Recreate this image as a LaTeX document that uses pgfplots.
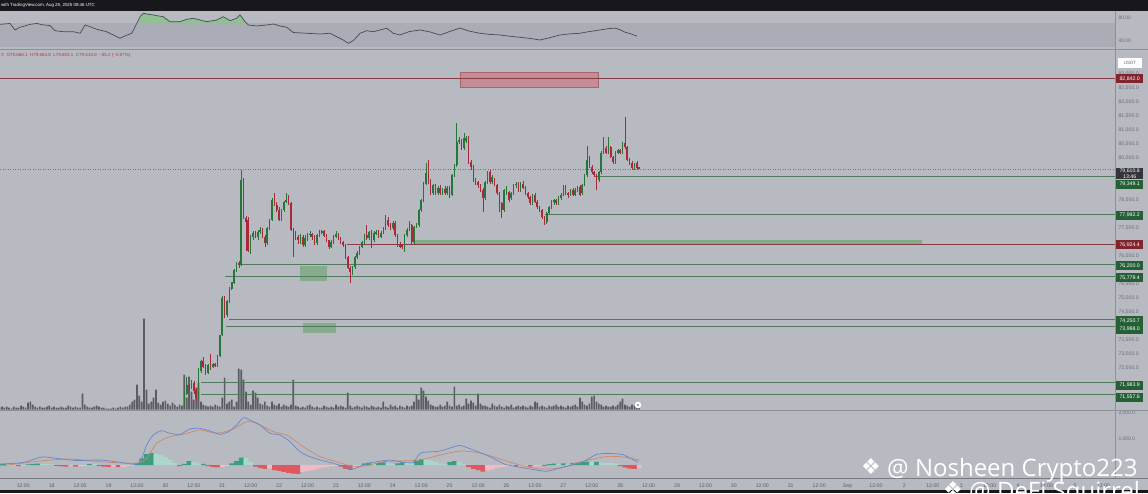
\documentclass[border=0pt]{standalone}
\usepackage{pgfplots}
\pgfplotsset{compat=1.18}
\usepackage{pgfplotstable}
\usepackage{fontspec}
\setmainfont{Liberation Sans}
\newfontfamily\wmfont{Open Sans}
\newfontfamily\symfont{DejaVu Sans}
\definecolor{bg}{RGB}{184,186,194}
\definecolor{topbar}{RGB}{24,24,28}
\definecolor{rsiband}{RGB}{171,173,182}
\definecolor{rsiline}{RGB}{72,72,82}
\definecolor{rsifill}{RGB}{140,192,140}
\definecolor{cgreen}{RGB}{38,118,58}
\definecolor{cred}{RGB}{168,42,58}
\definecolor{volgray}{RGB}{92,92,100}
\definecolor{lvlgreen}{RGB}{82,122,92}
\definecolor{lvlred}{RGB}{135,60,70}
\definecolor{boxgreen}{RGB}{36,96,52}
\definecolor{boxred}{RGB}{128,36,46}
\definecolor{boxdark}{RGB}{52,52,58}
\definecolor{zonegreen}{RGB}{122,168,128}
\definecolor{zonered}{RGB}{200,132,142}
\definecolor{macdblue}{RGB}{102,136,205}
\definecolor{macdorange}{RGB}{205,135,108}
\definecolor{hg}{RGB}{55,160,130}
\definecolor{hlg}{RGB}{170,215,200}
\definecolor{hr}{RGB}{226,86,96}
\definecolor{hp}{RGB}{242,186,196}
\definecolor{tickgray}{RGB}{108,108,118}
\definecolor{timegray}{RGB}{92,92,102}
\definecolor{sepgray}{RGB}{142,144,152}
\definecolor{legred}{RGB}{176,58,68}

\pgfplotsset{scaled ticks=false}

\pgfplotstableread{
o h l c
71350 71700 71150 71600
71600 72200 71550 71880
71880 71950 71700 71800
71800 72100 71750 71980
71980 72050 71600 71700
71700 71800 71300 71450
71450 72500 71400 72400
72400 72800 72350 72750
72750 72900 72500 72550
72550 72650 72250 72330
72330 72650 72280 72600
72600 73000 72450 72550
72550 72700 72500 72650
72650 72700 72550 72600
72600 72980 72550 72940
72940 73700 72900 73690
73690 75100 73650 75000
75000 75100 74300 74400
74400 74950 74350 74900
74900 75400 74850 75350
75350 75600 75300 75570
75570 76050 75500 76000
76000 76300 75950 76250
76250 76350 76100 76200
76200 79580 76150 79225
79225 79300 77850 77870
77870 77950 76700 77725
77800 77900 76650 76700
76700 77250 76600 77190
77190 77400 77100 77330
77330 77400 77150 77190
77190 77450 77100 77370
77370 77550 77300 77440
77440 77500 77150 77190
77190 77250 76850 76970
76970 77550 76900 77510
77510 77850 77450 77800
77800 78600 77750 78510
78510 78750 78300 78330
78330 78450 78100 78150
78150 78250 77750 77800
77800 78200 77750 78150
78150 78480 78100 78440
78440 78750 78400 78510
78510 78700 78350 78400
78400 78450 77400 77440
77440 77500 76480 77330
77330 77400 77100 77190
77190 77250 76950 77080
77010 77300 76950 77190
77190 77250 76850 76900
76900 77250 76850 77150
77150 77350 77050 77260
77260 77400 77200 77300
77300 77350 77100 77190
77190 77250 76900 76970
76970 77300 76900 77260
77260 77450 77200 77340
77340 77450 77300 77380
77380 77450 77200 77230
77230 77300 77000 77080
77080 77100 76750 76830
76830 77100 76780 77010
77010 77250 76950 77190
77190 77400 77150 77300
77300 77350 77100 77150
77150 77200 76950 77010
77010 77050 76850 76900
76900 76950 76400 76470
76470 76500 76050 76080
76080 76150 75550 75940
75940 76150 75850 76120
76120 76500 76050 76470
76470 76700 76400 76620
76620 76880 76550 76830
76830 77050 76800 77010
77010 77300 76950 77260
77260 77620 77100 77150
77150 77400 77100 77370
77370 77450 76800 77080
77080 77400 77000 77330
77330 77450 77250 77370
77370 77450 77150 77190
77190 77400 77150 77330
77330 77550 77300 77480
77480 77980 77450 77800
77800 77900 77550 77620
77620 77700 77450 77510
77510 77750 77450 77690
77690 77750 77200 77260
77260 77300 76850 76900
76900 77000 76800 76830
76900 76950 76750 76830
76830 77300 76650 77260
77260 77500 77200 77440
77440 77750 77400 77620
77620 77650 76950 77010
77010 77600 76950 77550
77550 77700 77500 77620
77620 78200 77550 78150
78150 78550 78100 78510
78510 79150 78450 79110
79110 79830 79050 79450
79450 79940 79100 79150
79150 79250 78700 78760
78760 79100 78700 79050
79050 79100 78700 78760
78760 79000 78700 78940
78940 79050 78700 78760
78760 78950 78700 78900
78900 79000 78700 78760
78760 79000 78700 78940
78940 79000 78600 78690
78690 79450 78650 79400
79400 79800 79350 79760
79760 81260 79700 80580
80580 80750 80500 80650
80650 80700 80300 80370
80370 80900 80300 80720
80620 80800 80550 80720
80720 80800 79800 79870
79870 79950 79600 79690
79690 79750 79150 79230
79230 79300 79050 79150
79150 79200 78950 79050
79050 79100 78800 78870
78870 78950 78080 78580
78580 79200 78500 79150
79150 79550 79100 79510
79510 79600 79100 79150
79150 79400 79100 79330
79230 79300 79000 79050
79050 79100 78700 78760
78760 78800 78100 78150
78400 78450 77870 78150
78150 78900 78100 78870
78760 79000 78700 78870
78800 78850 78450 78510
78580 78800 78500 78760
78760 79100 78700 79050
79050 79150 78950 79080
79080 79150 78800 78870
78870 79150 78800 79080
79080 79200 78900 78940
78940 79000 78700 78760
78760 78800 78550 78620
78620 78650 78350 78400
78400 78720 78350 78690
78690 78750 78400 78440
78440 78500 78200 78260
78260 78300 78100 78150
78150 78200 77850 77900
77900 77950 77620 77720
77720 78100 77650 78050
78050 78300 78000 78260
78260 78500 78200 78440
78440 78550 78350 78510
78510 78550 78350 78400
78400 78650 78350 78580
78580 78750 78500 78690
78690 79050 78650 78980
78980 79050 78700 78760
78760 78800 78600 78690
78690 78900 78650 78870
78870 78950 78650 78690
78690 78950 78650 78870
78870 79000 78800 78980
78980 79050 78650 78690
78760 79100 78700 79050
79050 79450 79000 79400
79400 80450 79350 79940
80000 80100 79650 79690
79690 79750 79450 79510
79510 79550 79350 79400
79400 79450 78870 79230
79230 79550 79150 79510
79510 80250 79450 80190
80190 80760 80150 80370
80370 80450 80150 80190
80190 80760 80150 80400
80400 80450 80000 80050
80050 80100 79800 79870
79870 80250 79800 80190
80190 80350 80150 80300
80300 80350 80150 80190
80190 80600 80150 80550
80550 81470 80350 80400
80400 80450 79900 79940
79940 80000 79750 79830
79830 79900 79600 79650
79650 79850 79600 79760
79830 79900 79600 79650
79666 79685 79603 79611
}\candles

\pgfplotstableread{
h v c
2 40 0
4 40 0
6 30 1
8 -20 3
10 -40 2
12 -30 3
14 20 0
16 40 0
18 50 0
20 40 1
22 30 1
24 20 1
26 -30 2
28 -50 2
30 -60 2
32 -40 3
34 -60 2
36 -40 3
38 -30 3
40 30 0
42 30 1
44 -30 2
46 -60 2
48 -70 2
50 -60 3
52 -80 2
54 -70 3
56 -40 3
58 -20 3
60 80 0
62 250 0
64 420 0
66 460 0
68 440 1
70 380 1
72 300 1
74 200 1
76 80 1
78 -40 2
80 40 0
82 150 0
84 120 1
86 60 1
88 40 0
90 -40 2
92 -80 2
94 -90 2
96 -70 3
98 -30 3
100 60 0
102 150 0
104 280 0
106 260 1
108 120 1
110 -60 2
112 -120 2
114 -150 2
116 -130 3
118 -200 2
120 -230 2
122 -260 2
124 -300 2
126 -330 2
128 -340 2
130 -260 3
132 -230 3
134 -200 3
136 -150 3
138 -100 3
140 -80 3
142 -50 3
144 -30 3
146 -60 2
148 -150 2
150 -190 2
152 -120 3
154 -50 3
156 60 0
158 90 0
160 60 1
162 80 0
164 100 0
166 60 1
168 40 1
170 60 0
172 100 0
174 80 1
176 60 1
178 150 0
180 230 0
182 220 1
184 180 1
186 120 1
188 60 1
190 40 1
192 110 0
194 150 0
196 120 1
198 40 1
200 -80 2
202 -150 2
204 -200 2
206 -250 2
208 -220 3
210 -180 3
212 -120 3
214 -80 3
216 -60 3
218 -40 3
220 -60 2
222 -50 3
224 -40 3
226 -60 2
228 -60 3
230 -30 3
232 -40 2
234 30 0
236 50 0
238 40 1
240 60 0
242 40 1
244 70 0
246 90 0
248 120 0
250 130 0
252 110 1
254 120 0
256 90 1
258 80 1
260 70 1
262 50 1
264 -40 2
266 -100 2
268 -140 2
270 -150 2
272 -120 3
}\hist

\newcommand{\pricebox}[3]{\node[fill=#1, text=white, font=\fontsize{5.2}{6}\selectfont, inner xsep=1.5pt, inner ysep=0pt, minimum height=9pt, minimum width=27pt, anchor=west] at (1116pt,#2pt) {#3};}

\pgfplotsset{candle/.style={only marks, mark=*, mark size=0pt, mark options={draw=none, fill=none},
  error bars/.cd, y dir=both, y explicit, error mark=none}}

\begin{document}
\begin{tikzpicture}[x=1pt,y=1pt]
\useasboundingbox (0pt,0pt) rectangle (1148pt,493pt);
\fill[bg] (0pt,0pt) rectangle (1148pt,493pt);

% ---------------- RSI pane ----------------
\begin{axis}[at={(0pt,443.5pt)}, anchor=south west, scale only axis,
  width=1115pt, height=38.5pt,
  xmin=2.174, xmax=472.9, ymin=24.8, ymax=91.7,
  axis line style={draw=none}, major tick length=0pt, xtick=\empty,
  ytick={40,80}, yticklabels={40.00,80.00}, yticklabel pos=right,
  yticklabel style={font=\fontsize{5}{6}\selectfont, text=tickgray},
  clip mode=individual]
\fill[rsiband] (axis cs:2.174,30) rectangle (axis cs:472.9,70);
\addplot[fill=rsifill, draw=none, fill opacity=0.85] coordinates {
(60.3,70) (61.3,81.8) (62.7,87.7) (64.1,86.5) (66.9,84.8) (68.3,83.6) (71.1,81.8)
(73.9,73.1) (78.2,73.1) (81,77.3) (83.8,79) (86.6,76.1) (89.4,73.1) (93.7,76.1)
(96.4,81.8) (99.3,74.9) (102.1,79) (103.5,84.8) (105.6,73.1) (106.5,70)} -- cycle;
\addplot[rsiline, line width=0.7pt] coordinates {
(2.2,68.5) (5,69.5) (6.4,70) (8.5,58.7) (10.6,63.4) (12.7,65.7) (14.8,68.5) (17.7,70)
(20.5,67.5) (23.3,66.4) (25.4,57.5) (28.9,55.7) (33.1,55.7) (36,53) (38.1,67.4)
(40.2,64.4) (43,59.9) (47.2,55.7) (50,50) (52.8,44.3) (54.9,48.3) (57.8,53)
(59.2,64.4) (61.3,81.8) (62.7,87.7) (64.1,86.5) (66.9,84.8) (68.3,83.6) (71.1,81.8)
(73.9,73.1) (78.2,73.1) (81,77.3) (83.8,79) (86.6,76.1) (89.4,73.1) (93.7,76.1)
(96.4,81.8) (99.3,74.9) (102.1,79) (103.5,84.8) (105.6,73.1) (107,67.4) (110.5,65.7)
(114.8,67.4) (117.6,69.1) (120.4,65.7) (123.2,63.4) (126,54.3) (131.6,53) (137.3,51.7)
(141.5,53) (144.3,47) (147.1,41.3) (149.2,35.6) (151.3,40.1) (154.2,53) (157,57.5)
(159.8,55.7) (162.6,58.7) (165.4,61.7) (168.2,53) (171,50) (175,56) (179.5,58.7)
(184,55) (188,50) (192,56) (196.4,62) (200,57) (204.8,53) (209,51) (213.3,50)
(217,48) (221.7,46) (226,44) (230.1,41.3) (234,45) (238.6,50) (243,52) (247,53)
(251,56) (255.5,58.7) (259,61) (261.8,62) (264,59) (266,55) (268.5,52) (271.1,48)};
\end{axis}

% ---------------- Volume ----------------
\begin{axis}[at={(0pt,83.5pt)}, anchor=south west, scale only axis,
  width=1115pt, height=359.5pt,
  xmin=2.174, xmax=472.9, ymin=0, ymax=359.5, hide axis]
\addplot[ybar, bar width=0.72, bar shift=0pt, fill=volgray, draw=none]
 table[row sep=\\, x expr=\coordindex+2, y index=0] {v\\
2\\3\\2\\3\\2\\1\\3\\2\\2\\4\\3\\2\\
7\\8\\5\\3\\
2\\3\\2\\2\\3\\4\\2\\3\\2\\2\\3\\2\\2\\4\\3\\2\\3\\2\\2\\
16\\5\\
3\\2\\2\\3\\4\\3\\2\\2\\1\\1\\1\\2\\1\\2\\3\\2\\3\\
3\\5\\8\\10\\25\\14\\8\\91\\20\\6\\8\\12\\20\\7\\5\\
8\\9\\6\\4\\7\\5\\3\\5\\4\\
35\\12\\33\\18\\10\\22\\27\\8\\5\\4\\3\\
4\\3\\5\\4\\3\\
12\\32\\6\\8\\10\\3\\8\\41\\40\\30\\
18\\8\\5\\19\\17\\12\\6\\5\\8\\
4\\3\\8\\5\\4\\6\\3\\5\\4\\3\\
5\\30\\4\\3\\
2\\3\\2\\4\\5\\3\\2\\3\\2\\2\\4\\3\\2\\3\\2\\5\\3\\4\\3\\2\\17\\4\\
2\\3\\4\\3\\2\\4\\3\\2\\4\\3\\
2\\3\\2\\8\\3\\2\\5\\3\\4\\2\\4\\3\\2\\4\\3\\
4\\8\\15\\10\\22\\19\\13\\9\\5\\4\\3\\
3\\5\\3\\4\\8\\4\\3\\
23\\4\\5\\3\\4\\11\\6\\
9\\7\\4\\16\\6\\4\\
4\\3\\2\\6\\4\\3\\5\\3\\2\\4\\3\\5\\2\\3\\4\\3\\4\\3\\2\\4\\3\\8\\
7\\3\\4\\3\\2\\4\\3\\4\\5\\3\\4\\3\\2\\4\\3\\4\\5\\3\\
12\\8\\5\\4\\6\\13\\14\\8\\6\\5\\
3\\4\\3\\3\\4\\3\\5\\8\\11\\
5\\4\\3\\5\\4\\3\\2\\
};
\end{axis}

% ---------------- Main price pane ----------------
\begin{axis}[at={(0pt,83pt)}, anchor=south west, scale only axis,
  width=1115pt, height=360pt,
  xmin=2.174, xmax=472.9, ymin=71011, ymax=83868,
  axis line style={draw=none}, major tick length=0pt, xtick=\empty,
  scaled y ticks=false,
  ytick={72500,73000,73500,74500,75000,75500,76500,77500,78500,80000,80500,81000,81500,82000,82500,83000},
  yticklabels={{72,500.0},{73,000.0},{73,500.0},{74,500.0},{75,000.0},{75,500.0},{76,500.0},{77,500.0},{78,500.0},{80,000.0},{80,500.0},{81,000.0},{81,500.0},{82,000.0},{82,500.0},{83,000.0}},
  yticklabel pos=right,
  yticklabel style={font=\fontsize{5.2}{6}\selectfont, text=tickgray},
  clip mode=individual]
% zones
\fill[zonered, fill opacity=0.85, draw=boxred!70, line width=0.4pt] (axis cs:196.4,83082) rectangle (axis cs:254.6,82546);
\fill[zonegreen, fill opacity=0.85] (axis cs:176.5,77082) rectangle (axis cs:391.4,76904);
\fill[zonegreen, fill opacity=0.8] (axis cs:128.8,76154) rectangle (axis cs:140.2,75619);
\fill[zonegreen, fill opacity=0.8] (axis cs:130.1,74118) rectangle (axis cs:144,73761);
% level lines
\draw[lvlred, line width=0.7pt] (axis cs:2.174,82842) -- (axis cs:472.9,82842);
\draw[sepgray!80!black, dotted, line width=0.5pt] (axis cs:2.174,79610.8) -- (axis cs:472.9,79610.8);
\draw[lvlgreen, line width=0.7pt] (axis cs:253.4,79349.1) -- (axis cs:472.9,79349.1);
\draw[lvlgreen, line width=0.7pt] (axis cs:232.3,77992.2) -- (axis cs:472.9,77992.2);
\draw[lvlred, line width=0.7pt] (axis cs:148.7,76924.4) -- (axis cs:472.9,76924.4);
\draw[lvlgreen, line width=0.7pt] (axis cs:103.5,76200) -- (axis cs:472.9,76200);
\draw[lvlgreen, line width=0.7pt] (axis cs:97.2,75779.4) -- (axis cs:472.9,75779.4);
\draw[lvlgreen, line width=0.7pt] (axis cs:98.8,74250.7) -- (axis cs:472.9,74250.7);
\draw[lvlgreen, line width=0.7pt] (axis cs:97.6,73998) -- (axis cs:472.9,73998);
\draw[lvlgreen, line width=0.7pt] (axis cs:87,71983.9) -- (axis cs:472.9,71983.9);
\draw[lvlgreen, line width=0.7pt] (axis cs:87,71557.6) -- (axis cs:472.9,71557.6);
% candles: wicks
\addplot[candle, error bar style={line width=0.5pt, draw=cgreen}]
  table[x expr=\coordindex+80, y expr={\thisrow{c}>=\thisrow{o} ? 0.5*(\thisrow{h}+\thisrow{l}) : nan},
        y error expr={0.5*(\thisrow{h}-\thisrow{l})}] {\candles};
\addplot[candle, error bar style={line width=0.5pt, draw=cred}]
  table[x expr=\coordindex+80, y expr={\thisrow{c}<\thisrow{o} ? 0.5*(\thisrow{h}+\thisrow{l}) : nan},
        y error expr={0.5*(\thisrow{h}-\thisrow{l})}] {\candles};
% candles: bodies
\addplot[candle, error bar style={line width=1.6pt, draw=cgreen}]
  table[x expr=\coordindex+80, y expr={\thisrow{c}>=\thisrow{o} ? 0.5*(\thisrow{o}+\thisrow{c}) : nan},
        y error expr={0.5*abs(\thisrow{c}-\thisrow{o})+10}] {\candles};
\addplot[candle, error bar style={line width=1.6pt, draw=cred}]
  table[x expr=\coordindex+80, y expr={\thisrow{c}<\thisrow{o} ? 0.5*(\thisrow{o}+\thisrow{c}) : nan},
        y error expr={0.5*abs(\thisrow{c}-\thisrow{o})+10}] {\candles};
\end{axis}

% ---------------- MACD pane ----------------
\begin{axis}[at={(0pt,15pt)}, anchor=south west, scale only axis,
  width=1115pt, height=68pt,
  xmin=2.174, xmax=472.9, ymin=-500, ymax=2115,
  axis line style={draw=none}, major tick length=0pt,
  scaled y ticks=false, scaled x ticks=false,
  xtick={12,24,...,468},
  xticklabels={12:00,18,12:00,19,12:00,20,12:00,21,12:00,22,12:00,23,12:00,24,12:00,25,12:00,26,12:00,27,12:00,28,12:00,29,12:00,30,12:00,31,12:00,Sep,12:00,2,12:00,3,12:00,4,12:00,5,12:00},
  xticklabel style={font=\fontsize{5.2}{6}\selectfont, text=timegray, yshift=-2.5pt},
  ytick={1000,2000}, yticklabels={{1,000.0},{2,000.0}}, yticklabel pos=right,
  yticklabel style={font=\fontsize{5}{6}\selectfont, text=tickgray},
  clip mode=individual]
\addplot[ybar, bar width=2, bar shift=0pt, fill=hg, draw=none]
  table[x=h, y expr={\thisrow{c}==0 ? \thisrow{v} : nan}] {\hist};
\addplot[ybar, bar width=2, bar shift=0pt, fill=hlg, draw=none]
  table[x=h, y expr={\thisrow{c}==1 ? \thisrow{v} : nan}] {\hist};
\addplot[ybar, bar width=2, bar shift=0pt, fill=hr, draw=none]
  table[x=h, y expr={\thisrow{c}==2 ? \thisrow{v} : nan}] {\hist};
\addplot[ybar, bar width=2, bar shift=0pt, fill=hp, draw=none]
  table[x=h, y expr={\thisrow{c}==3 ? \thisrow{v} : nan}] {\hist};
\addplot[macdorange, line width=0.7pt, smooth, tension=0.4] coordinates {
(2.2,-38) (19,154) (31.7,231) (44.4,127) (59.9,65) (64.1,258) (68.3,835) (73.9,1088)
(79.6,1181) (86.6,1346) (93.7,1219) (100.7,1385) (106.3,1665) (110.5,1604) (117.6,1281)
(123.2,1154) (130.2,704) (137.3,319) (144.3,127) (151.3,-65) (157,-27) (164,127)
(171,154) (179.5,192) (188,385) (196.4,538) (204.8,462) (213.3,231) (221.7,0)
(230.1,-154) (238.6,-115) (247,115) (258.4,327) (266.4,296) (272.2,181)};
\addplot[macdblue, line width=0.7pt, smooth, tension=0.4] coordinates {
(2.2,38) (11.9,96) (19.9,308) (26.4,250) (34.5,173) (44.4,192) (52.8,104) (59.9,27)
(62,258) (64.1,769) (66.9,1154) (70.4,1319) (73.9,1219) (78.2,1181) (82.4,1385)
(86.6,1411) (90.8,1308) (95.1,1181) (98.6,1281) (102.1,1538) (104.9,1819) (107.7,1731)
(111.9,1538) (116.2,1219) (120.4,1154) (124.6,896) (128.8,512) (133,319) (137.3,192)
(142.9,65) (148.5,-104) (151.3,-154) (155.5,0) (161.2,127) (166.8,192) (171,127)
(176.5,96) (179.9,462) (188,538) (196,750) (200.9,615) (209,323) (215.4,27)
(221.9,-88) (228.4,-192) (233.2,-238) (239.7,-88) (247.8,100) (253.8,400) (258.4,442)
(265,400) (271.4,108)};
\end{axis}

% ---------------- frame, separators ----------------
\fill[topbar] (0pt,482pt) rectangle (1148pt,493pt);
\node[anchor=west, text=white, font=\fontsize{4.4}{5}\selectfont, inner sep=0pt] at (1pt,487.5pt) {with TradingView.com, Aug 28, 2025 08:46 UTC};
\draw[sepgray, line width=0.8pt] (0pt,443.5pt) -- (1148pt,443.5pt);
\draw[sepgray, line width=0.8pt] (0pt,83pt) -- (1148pt,83pt);
\draw[sepgray!85!black, line width=0.8pt] (0pt,15pt) -- (1148pt,15pt);
\draw[sepgray, line width=0.6pt] (1115.5pt,15pt) -- (1115.5pt,482pt);
\fill[topbar] (0pt,0pt) rectangle (1148pt,3pt);

% legend row
\node[anchor=west, text=legred, font=\fontsize{4.5}{5}\selectfont, inner sep=0pt] at (1pt,438pt) {X\ \ O79,666.1 \ H79,684.8 \ L79,603.1 \ C79,610.8 \ −55.2 (−0.07\%)};

% right scale boxes
\node[fill=white, text=tickgray, font=\fontsize{4.6}{5}\selectfont, minimum width=24pt, minimum height=10pt, inner sep=0pt] at (1130pt,430pt) {USDT};
\pricebox{boxred}{414}{82,842.0}
\node[fill=boxdark, text=white, font=\fontsize{5.2}{6}\selectfont, inner xsep=1.5pt, inner ysep=1pt, minimum width=27pt, anchor=west, align=center] at (1116pt,319.5pt) {79,610.8\\[-0.5pt]13:46};
\pricebox{boxgreen}{308.5}{79,349.1}
\pricebox{boxgreen}{277.5}{77,992.2}
\pricebox{boxred}{248}{76,924.4}
\pricebox{boxgreen}{227}{76,200.0}
\pricebox{boxgreen}{215}{75,779.4}
\pricebox{boxgreen}{172.3}{74,250.7}
\pricebox{boxgreen}{164}{73,998.0}
\pricebox{boxgreen}{108}{71,983.9}
\pricebox{boxgreen}{96}{71,557.6}

% marker on the volume baseline
\fill[white] (638pt,88pt) circle (3.3pt);
\fill[gray] (638pt,88pt) circle (1.1pt);

% watermark
\node[text=white, font=\symfont\fontsize{22}{22}\selectfont, inner sep=0pt] at (871pt,26pt) {❖};
\node[anchor=base west, text=white, font=\wmfont\fontsize{24}{24}\selectfont, inner sep=0pt] at (887pt,17pt) {@ Nosheen Crypto223};
\node[text=white, font=\symfont\fontsize{22}{22}\selectfont, inner sep=0pt] at (953pt,3pt) {❖};
\node[anchor=base west, text=white, font=\wmfont\fontsize{24}{24}\selectfont, inner sep=0pt] at (969pt,-6pt) {@ DeFi Squirrel};
\end{tikzpicture}
\end{document}
